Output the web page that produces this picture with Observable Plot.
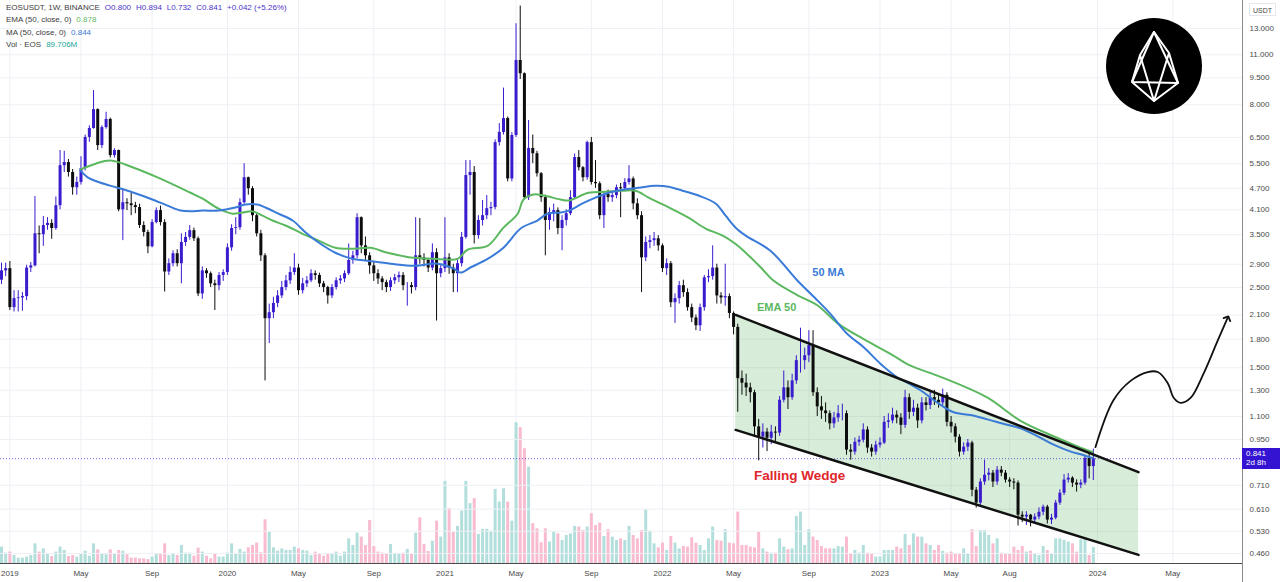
<!DOCTYPE html>
<html>
<head>
<meta charset="utf-8">
<script src="https://cdn.jsdelivr.net/npm/d3@7"></script>
<script src="https://cdn.jsdelivr.net/npm/@observablehq/plot@0.6"></script>
<style>
html,body{margin:0;padding:0;background:#fff;}
#chart{position:relative;width:1280px;height:582px;overflow:hidden;font-family:"Liberation Sans",Arial,sans-serif;}
#chart svg.layer{position:absolute;left:0;top:0;}
.legend{position:absolute;left:6px;top:2px;font-size:8px;line-height:12.4px;color:#3c3c3c;white-space:nowrap;}
.legend span{margin-right:5px;}
.pv{color:#4a33c9;}
.usdt{position:absolute;left:1249px;top:3px;width:27px;height:13px;border:1px solid #e3e6ec;font-size:7px;line-height:13px;text-align:center;color:#444;background:#fff;box-sizing:border-box;}
.plabel{position:absolute;left:1242px;width:38px;height:21px;background:#3414d2;color:#fff;font-size:8px;line-height:9.5px;padding-top:1px;padding-left:4px;box-sizing:border-box;}
.vline{position:absolute;left:1242px;top:563px;width:1px;height:19px;background:#8a8a8a;}
.logo{position:absolute;left:1106px;top:18px;}
</style>
</head>
<body>
<div id="chart"></div>
<script>
// ---------- data (weekly candles starting week of 2018-12-24) ----------
const weekStartUTC = [2018, 11, 24];
const firstOpen = 2.62;
const close = [2.78,2.82,2.20,2.33,2.34,2.36,2.83,2.87,3.52,3.50,
3.71,3.76,3.64,4.21,5.43,5.54,5.20,4.72,4.88,5.33,
6.50,6.88,7.76,6.17,6.92,7.29,5.79,5.98,4.10,4.29,
4.26,4.21,4.16,3.71,3.55,3.24,3.78,4.08,3.78,2.76,
2.91,3.10,2.91,3.33,3.44,3.59,3.41,2.40,2.78,2.73,
2.56,2.53,2.70,2.75,3.22,3.64,3.66,4.29,5.03,4.69,
3.95,3.52,3.06,2.05,2.13,2.26,2.37,2.50,2.61,2.75,
2.83,2.45,2.56,2.61,2.73,2.70,2.56,2.50,2.37,2.50,
2.61,2.64,2.73,2.97,3.06,3.90,3.26,3.06,2.87,2.73,
2.64,2.58,2.50,2.61,2.66,2.70,2.53,2.53,2.50,3.06,
3.02,2.97,2.83,3.12,2.73,2.82,3.02,2.83,2.73,2.91,
3.44,5.10,5.20,3.48,3.83,3.95,4.13,4.16,6.29,6.71,
7.33,4.99,6.58,10.61,9.75,4.43,6.06,5.86,5.16,4.43,
3.83,4.03,4.08,3.64,3.83,4.00,4.43,5.72,5.36,5.03,
6.29,4.88,4.84,3.95,4.52,4.43,4.49,4.72,4.69,4.88,
4.99,4.26,3.95,3.02,3.33,3.37,3.41,3.26,2.82,2.91,
2.27,2.33,2.53,2.42,2.20,2.06,1.96,2.20,2.66,2.68,
2.83,2.37,2.34,2.36,2.12,1.94,1.40,1.36,1.32,1.28,
1.03,0.965,0.996,0.958,0.996,0.99,1.22,1.32,1.24,1.38,
1.57,1.57,1.62,1.73,1.28,1.17,1.14,1.12,1.05,1.09,
1.12,1.12,0.888,0.877,0.934,0.946,1.01,0.90,0.877,0.917,
0.929,1.06,1.07,1.11,1.09,1.04,1.24,1.13,1.16,1.07,
1.20,1.18,1.24,1.22,1.20,1.26,1.06,1.03,0.965,0.877,
0.905,0.929,0.688,0.634,0.725,0.757,0.767,0.725,0.782,0.767,
0.734,0.725,0.720,0.587,0.580,0.587,0.569,0.580,0.598,0.618,
0.569,0.576,0.634,0.675,0.734,0.743,0.720,0.711,0.720,0.843,
0.800,0.841];
const high = [2.92,2.92,2.95,2.45,2.45,2.42,2.88,2.93,4.46,3.70,
3.93,3.90,3.85,4.45,5.98,5.95,5.65,5.30,5.05,5.75,
6.60,7.00,8.76,7.80,7.00,7.63,7.35,6.05,6.00,4.70,
4.40,4.55,4.30,4.25,3.80,3.60,3.85,4.15,4.20,3.85,
3.00,3.16,3.18,3.52,3.55,3.71,3.65,3.45,2.85,2.82,
2.76,2.62,2.75,2.80,3.30,3.73,3.90,4.40,5.50,5.05,
4.75,4.00,3.60,3.10,2.25,2.35,2.45,2.60,2.70,2.85,
3.10,2.90,2.65,2.68,2.80,2.78,2.74,2.60,2.52,2.55,
2.66,2.70,2.78,3.30,3.15,4.00,3.92,3.45,3.12,2.95,
2.80,2.68,2.62,2.66,2.72,2.76,2.75,2.58,2.58,3.90,
3.88,3.10,3.00,3.30,3.20,2.90,3.90,3.10,2.90,3.00,
3.55,5.61,5.61,5.40,3.95,4.35,4.49,4.30,6.40,7.10,
8.90,7.40,6.70,13.4,15.0,9.80,7.24,6.60,5.95,5.20,
4.50,4.15,4.25,4.15,3.95,4.10,4.63,5.85,5.98,5.40,
6.35,6.50,5.61,4.90,4.60,4.65,4.60,4.80,4.85,5.00,
5.43,5.05,4.40,4.05,3.45,3.48,3.55,3.48,3.30,3.00,
2.95,2.40,2.60,2.62,2.48,2.25,2.10,2.25,2.70,2.80,
3.26,2.90,2.42,2.90,2.40,2.14,1.98,1.47,1.44,1.36,
1.30,1.08,1.05,1.02,1.04,1.03,1.25,1.47,1.38,1.44,
1.62,1.93,1.70,1.90,1.90,1.32,1.25,1.20,1.14,1.13,
1.18,1.19,1.14,0.92,0.96,0.97,1.05,1.03,0.92,0.94,
0.96,1.10,1.12,1.16,1.14,1.12,1.30,1.27,1.22,1.19,
1.24,1.24,1.30,1.30,1.27,1.31,1.28,1.10,1.05,0.98,
0.93,0.95,0.94,0.70,0.74,0.833,0.79,0.78,0.80,0.80,
0.78,0.745,0.74,0.73,0.60,0.60,0.59,0.592,0.615,0.626,
0.625,0.59,0.645,0.69,0.76,0.765,0.75,0.735,0.735,0.86,
0.87,0.894];
const low = [2.55,2.68,2.16,2.14,2.14,2.15,2.30,2.75,2.85,3.10,
3.25,3.60,3.40,3.60,4.10,5.20,5.05,4.50,4.50,4.80,
5.25,6.30,6.85,5.98,6.05,6.85,5.70,5.70,4.05,3.37,
4.08,3.95,4.00,3.64,3.45,3.10,3.22,3.75,3.70,2.43,
2.70,2.85,2.85,2.56,3.25,3.38,3.35,2.36,2.32,2.65,
2.50,2.16,2.45,2.60,2.70,3.15,3.50,3.60,4.25,4.50,
3.80,3.45,2.95,1.38,1.75,2.05,2.20,2.33,2.45,2.55,
2.70,2.38,2.40,2.50,2.58,2.62,2.50,2.42,2.25,2.33,
2.46,2.55,2.58,2.70,2.90,3.00,3.10,2.95,2.72,2.60,
2.55,2.45,2.42,2.44,2.55,2.58,2.45,2.22,2.40,2.45,
2.90,2.85,2.75,2.78,2.02,2.66,2.75,2.72,2.42,2.42,
2.85,3.40,4.50,3.30,3.40,3.70,3.85,3.95,4.10,6.15,
6.60,4.90,4.90,6.50,9.40,4.40,4.35,5.50,5.05,4.30,
3.06,3.60,3.80,3.50,3.16,3.70,3.95,4.40,5.25,4.90,
4.95,4.80,4.70,3.85,3.64,4.30,4.30,4.40,3.90,4.60,
4.80,4.10,3.85,2.42,2.95,3.20,3.25,3.15,2.75,2.70,
2.20,1.99,2.25,2.35,2.15,2.00,1.90,1.89,2.15,2.58,
2.62,2.25,2.25,2.22,2.05,1.85,1.13,1.26,1.25,1.20,
0.97,0.83,0.90,0.88,0.92,0.93,0.97,1.20,1.15,1.22,
1.35,1.45,1.48,1.55,1.25,1.10,1.08,1.06,1.01,1.02,
1.06,1.07,0.86,0.833,0.86,0.91,0.93,0.87,0.85,0.86,
0.90,0.92,1.02,1.05,1.05,0.98,1.02,1.08,1.10,1.02,
1.05,1.14,1.15,1.18,1.16,1.18,1.03,0.99,0.93,0.85,
0.86,0.88,0.66,0.614,0.62,0.71,0.73,0.70,0.71,0.75,
0.72,0.70,0.69,0.548,0.56,0.55,0.545,0.56,0.57,0.585,
0.555,0.553,0.57,0.625,0.665,0.72,0.70,0.68,0.695,0.71,
0.74,0.732];
const volume = [92,58,64,45,30,30,36,45,110,64,
82,50,39,64,92,73,39,45,36,50,
69,41,110,77,50,49,77,50,73,69,
49,30,30,26,26,22,36,50,50,110,
45,54,45,101,58,58,41,86,64,41,
26,54,36,36,58,110,54,79,64,88,
101,114,60,245,176,88,69,82,73,73,
92,82,73,69,45,64,50,41,50,54,
64,41,64,138,101,170,148,101,241,95,
64,58,50,107,54,54,58,79,54,170,
256,107,67,125,237,148,460,307,176,208,
294,460,335,363,163,191,191,181,415,344,
419,344,237,789,761,643,540,223,194,116,
194,120,176,166,129,157,166,208,204,185,
204,279,213,226,151,189,148,129,138,129,
208,157,138,185,301,181,110,88,114,73,
151,114,82,95,92,144,114,101,73,138,
204,129,125,189,114,110,288,101,101,92,
88,176,82,64,58,58,138,92,77,82,
264,288,101,189,148,129,95,82,82,82,
95,92,148,54,73,58,101,58,54,36,
36,73,73,73,92,82,163,101,166,148,
148,110,101,73,101,69,58,64,54,50,
82,54,189,95,185,185,157,110,138,58,
50,54,92,73,95,64,69,54,45,95,
73,54,138,138,129,120,110,64,133,138,
45,89.706];

// moving averages: week offsets and values
const emaWeeks = [18.9,22.5,26.1,31.6,37.3,45.2,48.1,51.9,55.2,57.6,60.0,62.4,64.8,67.9,72.0,75.8,79.8,83.9,88.2,92.3,98.5,104.2,109.0,111.4,116.2,120.0,123.4,124.8,127.2,129.6,133.6,135.6,140.3,144.4,148.5,151.6,154.7,158.7,164.2,168.3,172.4,175.5,177.9,181.4,184.6,190.3,195.1,199.9,206.1,212.5,217.3,222.1,226.9,235.7,243.6,251.5,257.2,260.8];
const emaValues = [5.30,5.50,5.61,5.36,5.04,4.57,4.40,4.13,4.00,4.03,4.06,3.95,3.83,3.71,3.52,3.37,3.22,3.20,3.22,3.12,3.02,3.00,3.00,3.18,3.26,3.66,4.00,4.38,4.52,4.49,4.38,4.35,4.57,4.60,4.63,4.63,4.43,4.21,3.90,3.64,3.48,3.30,3.12,2.85,2.61,2.38,2.23,1.99,1.80,1.64,1.52,1.45,1.38,1.24,1.07,0.97,0.91,0.878];
const maWeeks = [18.9,20.6,23.7,27.7,31.6,35.6,39.7,42.8,45.2,48.1,51.9,55.9,58.3,61.2,63.1,66.2,69.6,72.7,75.8,79.8,83.9,87.0,93.0,98.5,104.2,108.1,109.7,112.1,116.2,120.0,124.1,128.1,130.5,133.6,135.6,138.9,142.0,145.1,148.5,152.3,156.3,159.5,162.8,166.6,170.7,173.1,175.5,177.9,183.8,190.3,195.1,198.2,202.2,206.1,210.1,214.2,217.3,219.7,223.8,227.6,231.7,235.7,239.5,243.6,247.7,251.5,255.6,258.7,260.8];
const maValues = [5.26,5.04,4.87,4.72,4.57,4.40,4.21,4.08,4.06,4.08,4.08,4.16,4.24,4.24,4.16,4.00,3.83,3.55,3.33,3.12,3.00,2.97,2.91,2.87,2.91,2.82,2.75,2.84,3.00,3.22,3.64,3.83,4.00,4.03,4.08,4.27,4.43,4.57,4.66,4.72,4.78,4.75,4.63,4.49,4.27,3.95,3.66,3.48,3.16,2.61,2.30,2.11,1.86,1.71,1.54,1.41,1.35,1.30,1.20,1.13,1.11,1.08,1.05,1.02,0.97,0.92,0.88,0.86,0.844];

// falling wedge drawing
const wedgeWeeks = [175.5, 271.8];
const wedgeTop = [2.10, 0.772];
const wedgeBottom = [1.01, 0.456];

// projected path arrow
const arrowWeeks = [261.5,265.8,269.9,274.0,276.4,278.8,280.2,281.9,284.3,287.4,290.7,293.1];
const arrowPrices = [0.905,1.22,1.38,1.46,1.46,1.36,1.24,1.20,1.24,1.45,1.78,2.06];

// labels
const labelTexts = ["50 MA", "EMA 50", "Falling Wedge"];
const labelWeeks = [197.7, 185.3, 190.8];
const labelPrices = [2.75, 2.20, 0.757];

// axis ticks
const yTicks = [13, 11, 9.5, 8, 6.5, 5.5, 4.7, 4.1, 3.5, 2.9, 2.5, 2.1, 1.8, 1.5, 1.3, 1.1, 0.95, 0.71, 0.61, 0.53, 0.46];
const xTickDates = ["2019-01-07","2019-05-06","2019-09-02","2020-01-06","2020-05-04","2020-09-07","2021-01-04","2021-05-03","2021-09-06","2022-01-03","2022-05-02","2022-09-05","2023-01-02","2023-05-01","2023-08-07","2024-01-01","2024-05-06"];
const xTickLabels = ["2019","May","Sep","2020","May","Sep","2021","May","Sep","2022","May","Sep","2023","May","Aug","2024","May"];

const legendTitle = "EOSUSDT, 1W, BINANCE";
const legendOHLC = ["O0.800", "H0.894", "L0.732", "C0.841", "+0.042 (+5.26%)"];
const legendEMA = ["EMA (50, close, 0)", "0.878"];
const legendMA = ["MA (50, close, 0)", "0.844"];
const legendVol = ["Vol · EOS", "89.706M"];
const countdown = "2d 8h";

// ---------- build ----------
const DAY = 864e5;
const start = Date.UTC(...weekStartUTC);
const dateOfWeek = w => new Date(start + w * 7 * DAY);

const candles = close.map((c, i) => ({
  date: dateOfWeek(i),
  open: i ? close[i - 1] : firstOpen,
  close: c, high: high[i], low: low[i], volume: volume[i]
}));
const ema = emaWeeks.map((w, i) => ({date: dateOfWeek(w), value: emaValues[i]}));
const ma = maWeeks.map((w, i) => ({date: dateOfWeek(w), value: maValues[i]}));
const wedge = wedgeWeeks.map((w, i) => ({date: dateOfWeek(w), top: wedgeTop[i], bottom: wedgeBottom[i]}));
const arrow = arrowWeeks.map((w, i) => ({date: dateOfWeek(w), value: arrowPrices[i]}));
const labels = labelTexts.map((t, i) => ({text: t, date: dateOfWeek(labelWeeks[i]), value: labelPrices[i]}));
const xTicks = xTickDates.map(d => new Date(d + "T00:00:00Z"));
const xLabelMap = new Map(xTicks.map((d, i) => [+d, xTickLabels[i]]));

const UP = "#3a1ccf", DOWN = "#0d0d0d";
const VOL_UP = "#b2dfdb", VOL_DOWN = "#f8bbd0";
const GREEN = "#5cb85f", BLUE = "#3a7bd8", RED = "#e0262b";
const isUp = d => d.close >= d.open;

const xDomain = [new Date(start - 1.673 * DAY), new Date(start + 2076.6 * DAY)];
const yDomain = [0.4316, 15.54];

const common = {
  width: 1280, height: 582,
  marginLeft: 0, marginRight: 38, marginTop: 0, marginBottom: 19,
  color: {type: "identity"},
  style: {background: "transparent", fontFamily: "'Liberation Sans', Arial, sans-serif", fontSize: "8px", overflow: "visible"}
};

const volPlot = Plot.plot({
  ...common,
  x: {type: "utc", domain: xDomain, axis: null},
  y: {domain: [0, 3153], axis: null},
  marks: [
    Plot.gridX(xTicks, {stroke: "#eef0f5", strokeOpacity: 1}),
    Plot.ruleX(candles, {x: "date", y1: 0, y2: "volume", stroke: d => isUp(d) ? VOL_UP : VOL_DOWN, strokeWidth: 3})
  ]
});

const pricePlot = Plot.plot({
  ...common,
  x: {type: "utc", domain: xDomain},
  y: {type: "log", domain: yDomain},
  marks: [
    Plot.gridY(yTicks, {stroke: "#eef0f5", strokeOpacity: 1}),
    Plot.area(wedge, {x1: "date", y1: "bottom", y2: "top", fill: "#4caf50", fillOpacity: 0.22}),
    Plot.ruleY([close[close.length - 1]], {stroke: "#3a1ccf", strokeOpacity: 0.7, strokeWidth: 1, strokeDasharray: "1,2"}),
    Plot.ruleX(candles, {x: "date", y1: "low", y2: "high", stroke: d => isUp(d) ? UP : DOWN, strokeWidth: 1}),
    Plot.ruleX(candles, {x: "date", y1: "open", y2: "close", stroke: d => isUp(d) ? UP : DOWN, strokeWidth: 3}),
    Plot.line(ema, {x: "date", y: "value", stroke: GREEN, strokeWidth: 2, curve: "catmull-rom"}),
    Plot.line(ma, {x: "date", y: "value", stroke: BLUE, strokeWidth: 2, curve: "catmull-rom"}),
    Plot.line(wedge, {x: "date", y: "top", stroke: "#111", strokeWidth: 2.5}),
    Plot.line(wedge, {x: "date", y: "bottom", stroke: "#111", strokeWidth: 2.5}),
    Plot.line(arrow, {x: "date", y: "value", stroke: "#111", strokeWidth: 1.8, curve: "catmull-rom", markerEnd: "arrow"}),
    Plot.text(labels.slice(0, 1), {x: "date", y: "value", text: "text", fill: BLUE, fontWeight: "bold", fontSize: 11}),
    Plot.text(labels.slice(1, 2), {x: "date", y: "value", text: "text", fill: GREEN, fontWeight: "bold", fontSize: 11}),
    Plot.text(labels.slice(2, 3), {x: "date", y: "value", text: "text", fill: RED, fontWeight: "bold", fontSize: 13.5}),
    Plot.ruleY([yDomain[0]], {stroke: "#4a4a4a", strokeWidth: 1}),
    Plot.ruleX([xDomain[1]], {stroke: "#8a8a8a", strokeWidth: 1}),
    Plot.axisY(yTicks, {anchor: "right", tickSize: 0, tickPadding: 7, tickFormat: d3.format(".3f"), fontSize: 8, color: "#4a4a4a"}),
    Plot.axisX(xTicks, {anchor: "bottom", tickSize: 0, tickPadding: 7, tickFormat: d => xLabelMap.get(+d), fontSize: 8, color: "#4a4a4a"})
  ]
});

const root = document.getElementById("chart");
volPlot.classList.add("layer");
pricePlot.classList.add("layer");
root.appendChild(volPlot);
root.appendChild(pricePlot);

// legend
const lg = document.createElement("div");
lg.className = "legend";
lg.innerHTML =
  `<div><span>${legendTitle}</span>` + legendOHLC.map(s => `<span class="pv">${s}</span>`).join("") + `</div>` +
  `<div><span>${legendEMA[0]}</span><span style="color:${GREEN}">${legendEMA[1]}</span></div>` +
  `<div><span>${legendMA[0]}</span><span style="color:${BLUE}">${legendMA[1]}</span></div>` +
  `<div><span>${legendVol[0]}</span><span style="color:#26a69a">${legendVol[1]}</span></div>`;
root.appendChild(lg);

// currency box
const u = document.createElement("div");
u.className = "usdt"; u.textContent = "USDT";
root.appendChild(u);

// last price label positioned through the y scale
const lastClose = close[close.length - 1];
const yLast = pricePlot.scale("y").apply(lastClose);
const pl = document.createElement("div");
pl.className = "plabel";
pl.style.top = (yLast - 10.5) + "px";
pl.innerHTML = `${d3.format(".3f")(lastClose)}<br>${countdown}`;
root.appendChild(pl);

const vl = document.createElement("div");
vl.className = "vline";
root.appendChild(vl);

// EOS logo
const logo = document.createElement("div");
logo.className = "logo";
logo.innerHTML = `<svg width="96" height="96" viewBox="0 0 96 96">
<circle cx="48" cy="48" r="48" fill="#000"/>
<g fill="none" stroke="#fff" stroke-width="2" stroke-linejoin="round">
<polygon points="48,14 34,37 26,64 48,83 72,65 63,35"/>
<polyline points="26,64 48,14 72,65 26,64"/>
<polyline points="34,37 48,83 63,35"/>
</g></svg>`;
root.appendChild(logo);
</script>
</body>
</html>
